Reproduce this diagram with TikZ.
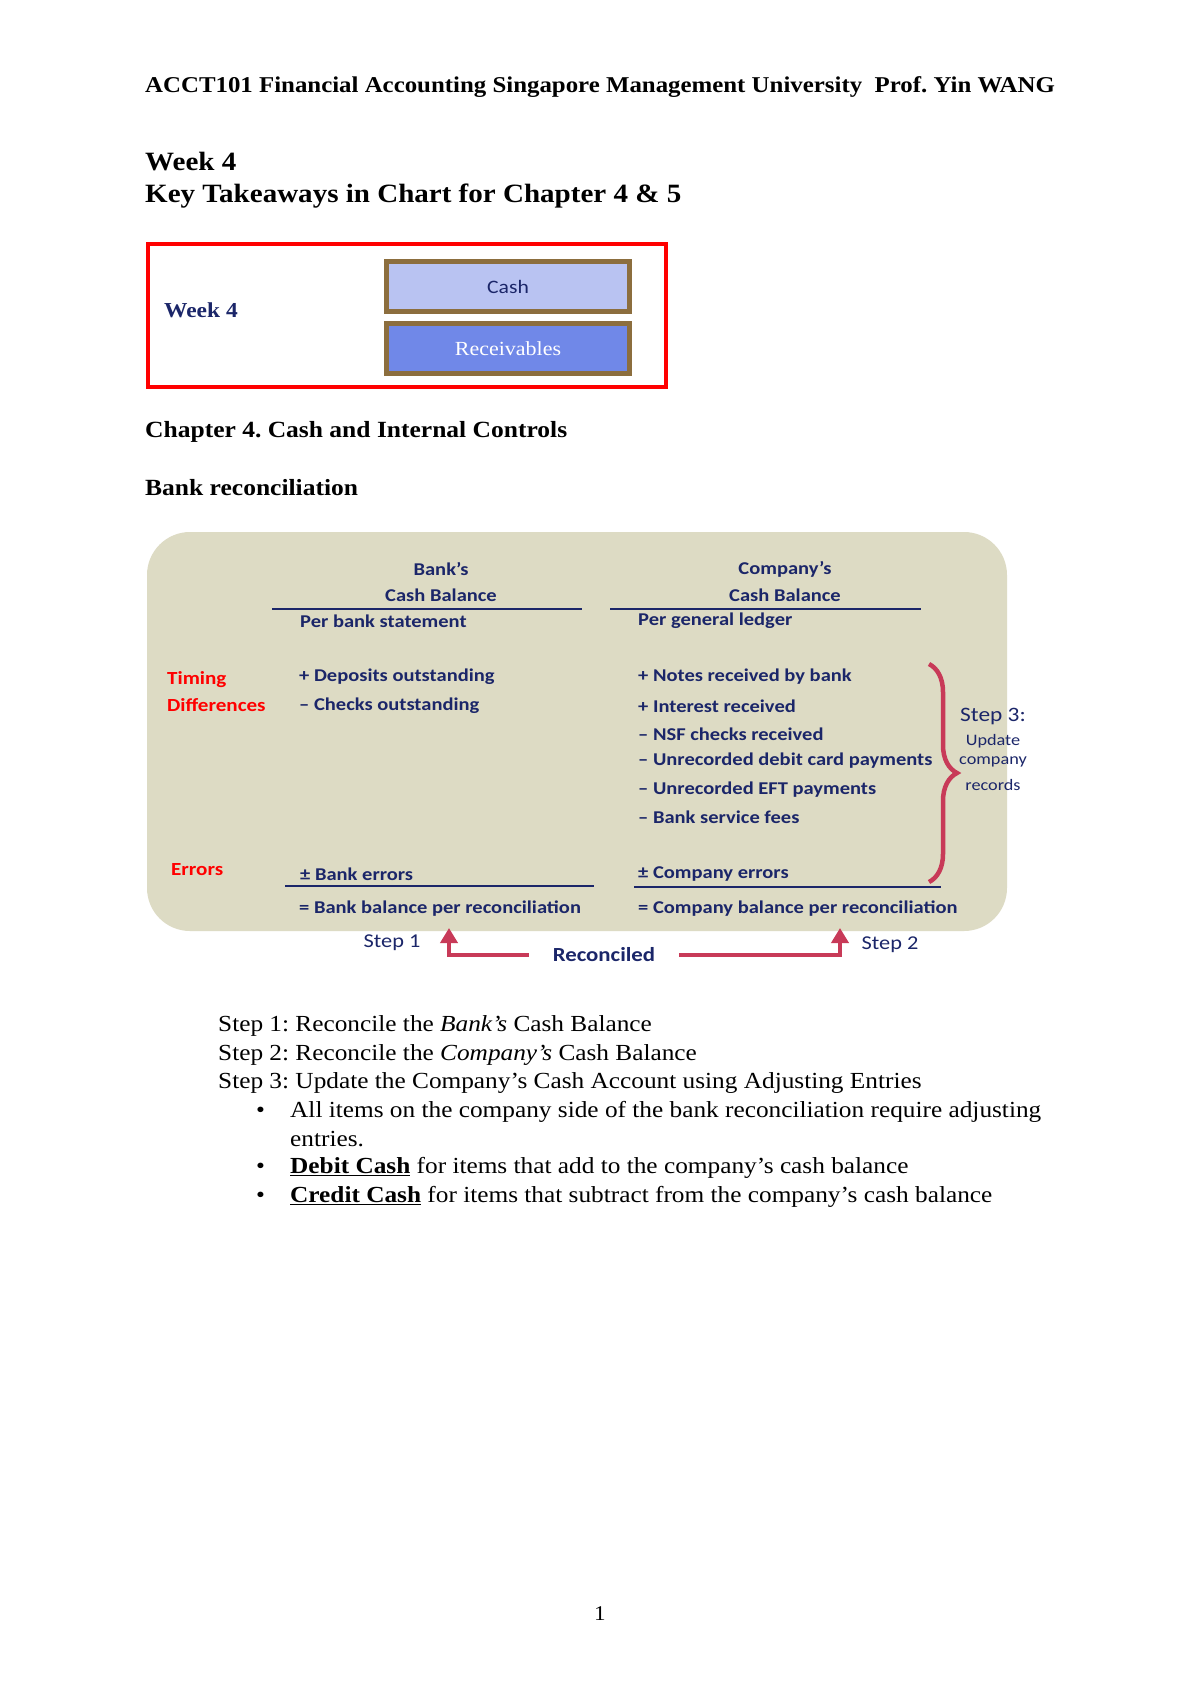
\documentclass[tikz,border=0pt]{standalone}
\usepackage{fontspec}
\setmainfont{Liberation Serif}[FakeStretch=1.1]
\newfontfamily\dia{Carlito}[FakeStretch=1.14]
\usetikzlibrary{arrows.meta,decorations.pathreplacing}
\definecolor{navy}{RGB}{27,38,105}
\definecolor{crim}{RGB}{200,58,88}
\definecolor{beige}{RGB}{221,219,196}
\definecolor{brownb}{RGB}{140,110,62}
\definecolor{lav}{RGB}{185,195,242}
\definecolor{blu}{RGB}{112,136,232}
\frenchspacing
\begin{document}
\begin{tikzpicture}[x=1pt,y=-1pt,
  hdr/.style={anchor=west,inner sep=0pt,font=\fontsize{22.6}{26}\selectfont\bfseries},
  ttl/.style={anchor=west,inner sep=0pt,font=\fontsize{26.4}{30}\selectfont\bfseries},
  sec/.style={anchor=west,inner sep=0pt,font=\fontsize{23.2}{27}\selectfont\bfseries},
  body/.style={anchor=west,inner sep=0pt,font=\fontsize{23}{27}\selectfont},
  itm/.style={anchor=west,inner sep=0pt,text=navy,font=\dia\fontsize{18}{21}\selectfont\bfseries},
  ctr/.style={inner sep=0pt,text=navy,font=\dia\fontsize{18}{21}\selectfont\bfseries},
  redl/.style={anchor=west,inner sep=0pt,text=red,font=\dia\fontsize{18.5}{21}\selectfont\bfseries},
  rule/.style={navy,line width=1.6pt},
  tbox/.style={draw=brownb,line width=5pt,minimum width=243pt,minimum height=50pt,inner sep=0pt},
  carrow/.style={crim,line width=4.5pt,-{Triangle[width=17pt,length=15pt]}}
]
\useasboundingbox (0,0) rectangle (1200,1698);
\fill[white] (0,0) rectangle (1200,1698);

% header
\node[hdr] (head) at (145,87) {ACCT101 Financial Accounting Singapore Management University\ \ Prof. Yin WANG};
\node[ttl] (wk) at (145,162) {Week 4};
\node[ttl] (kt) at (145,196) {Key Takeaways in Chart for Chapter 4 \& 5};

% week box
\draw[red,line width=3.5pt] (148,244) rectangle (666,387);
\node[anchor=west,inner sep=0pt,text=navy,font=\fontsize{21.3}{24}\selectfont\bfseries] (wl) at (164,310) {Week 4};
\node[tbox,fill=lav,text=navy,font=\dia\fontsize{19}{22}\selectfont] (cash) at (508,286.5) {Cash};
\node[tbox,fill=blu,text=white,font=\fontsize{20}{23}\selectfont] (recv) at (508,348.5) {Receivables};

\node[sec] (ch) at (145,432) {Chapter 4. Cash and Internal Controls};
\node[sec] (br) at (145,488) {Bank reconciliation};

% big panel
\fill[beige,rounded corners=43pt] (147,532) rectangle (1007,931);

\node[ctr] (bk1) at (441,569) {Bank’s};
\node[ctr] (bk2) at (441,595) {Cash Balance};
\node[ctr] (co1) at (785,569) {Company’s};
\node[ctr] (co2) at (785,595) {Cash Balance};
\draw[rule] (272,609) -- (582,609);
\draw[rule] (610,609) -- (921,609);
\node[itm] (pbs) at (300,621) {Per bank statement};
\node[itm] (pgl) at (638,621) {Per general ledger};

\node[redl] (tim) at (167,680) {Timing};
\node[redl] (dif) at (167,705) {Differences};
\node[itm] (dep) at (299,677) {+ Deposits outstanding};
\node[itm] (chk) at (299,706) {– Checks outstanding};

\node[itm] (n1) at (638,677) {+ Notes received by bank};
\node[itm] (n2) at (638,706) {+ Interest received};
\node[itm] (n3) at (638,734) {– NSF checks received};
\node[itm] (n4) at (638,761) {– Unrecorded debit card payments};
\node[itm] (n5) at (638,790) {– Unrecorded EFT payments};
\node[itm] (n6) at (638,817) {– Bank service fees};

\node[redl] (err) at (171,870) {Errors};
\node[itm] (be) at (300,874) {± Bank errors};
\node[itm] (ce) at (638,874) {± Company errors};
\draw[rule] (285,886) -- (594,886);
\draw[rule] (634,887) -- (941,887);
\node[itm] (bb) at (299,909) {= Bank balance per reconciliation};
\node[itm] (cb) at (638,909) {= Company balance per reconciliation};

% brace
\draw[crim,line width=4.5pt,decorate,decoration={brace,amplitude=28pt}] (929,664) -- (929,882);
\node[ctr,font=\dia\fontsize{20.5}{23}\selectfont] (s3) at (993,716) {Step 3:};
\node[ctr,font=\dia\fontsize{16}{18}\selectfont] (s3a) at (993,741) {Update};
\node[ctr,font=\dia\fontsize{16}{18}\selectfont] (s3b) at (993,762) {company};
\node[ctr,font=\dia\fontsize{16}{18}\selectfont] (s3c) at (993,785) {records};

% reconciled arrows
\node[ctr,font=\dia\fontsize{20}{23}\selectfont\bfseries,inner xsep=24pt] (rec) at (604,955) {Reconciled};
\node[ctr,font=\dia\fontsize{19.6}{22}\selectfont] (st1) at (392,943) {Step 1};
\node[ctr,font=\dia\fontsize{19.6}{22}\selectfont] (st2) at (890,945) {Step 2};
\coordinate (t1) at (449,928);
\coordinate (t2) at (840,928);
\draw[carrow] (rec.west) -| (t1);
\draw[carrow] (rec.east) -| (t2);

% body text
\node[body] (l1) at (218,1026) {Step 1: Reconcile the \textit{Bank’s} Cash Balance};
\node[body] (l2) at (218,1055) {Step 2: Reconcile the \textit{Company’s} Cash Balance};
\node[body] (l3) at (218,1083) {Step 3: Update the Company’s Cash Account using Adjusting Entries};
\node[body] (b1) at (256,1112) {•};
\node[body] (l4) at (290,1112) {All items on the company side of the bank reconciliation require adjusting};
\node[body] (l5) at (290,1139) {entries.};
\node[body] (b2) at (256,1168) {•};
\node[body] (l6) at (290,1168) {\underline{\textbf{Debit Cash}} for items that add to the company’s cash balance};
\node[body] (b3) at (256,1197) {•};
\node[body] (l7) at (290,1197) {\underline{\textbf{Credit Cash}} for items that subtract from the company’s cash balance};

\node[inner sep=0pt,font=\fontsize{21}{25}\selectfont] (pg) at (600,1614) {1};
\end{tikzpicture}
\end{document}
